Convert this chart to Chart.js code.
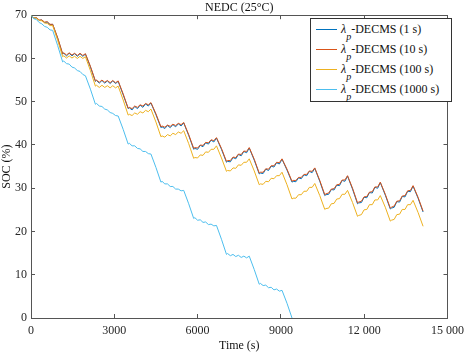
<!DOCTYPE html>
<html>
<head>
<meta charset="utf-8">
<script src="https://cdn.jsdelivr.net/npm/chart.js@4.4.1/dist/chart.umd.min.js"></script>
<style>
  body { margin: 0; background: #fff; }
  #wrap { position: relative; width: 474px; height: 353px; }
  #legend {
    position: absolute; left: 310px; top: 18px; width: 140px; height: 82px;
    border: 1px solid #333; background: #fff;
    font-family: "Liberation Serif", serif; font-size: 12px; color: #111;
  }
  .row { position: absolute; left: 0; height: 20px; width: 140px; }
  .sw { position: absolute; left: 5px; top: 10px; width: 21px; height: 1px; }
  .txt { position: absolute; left: 30px; top: 0; line-height: 20px; white-space: nowrap; font-family: "Liberation Serif", serif; }
  .txt i { font-style: italic; }
  .txt sub { font-size: 10px; vertical-align: -7px; line-height: 0; font-style: italic; }
</style>
</head>
<body>
<div id="wrap">
  <canvas id="myChart" width="474" height="353"></canvas>
  <div id="legend"></div>
</div>
<script>
'use strict';

// time (s), NEDC cycles of 1180 s
const times = [
  0, 100, 195, 295, 390, 490, 585, 685, 780, 960, 1140,
  1180, 1280, 1375, 1475, 1570, 1670, 1765, 1865, 1960, 2140, 2320,
  2360, 2460, 2555, 2655, 2750, 2850, 2945, 3045, 3140, 3320, 3500,
  3540, 3640, 3735, 3835, 3930, 4030, 4125, 4225, 4320, 4500, 4680,
  4720, 4820, 4915, 5015, 5110, 5210, 5305, 5405, 5500, 5680, 5860,
  5900, 6000, 6095, 6195, 6290, 6390, 6485, 6585, 6680, 6860, 7040,
  7080, 7180, 7275, 7375, 7470, 7570, 7665, 7765, 7860, 8040, 8220,
  8260, 8360, 8455, 8555, 8650, 8750, 8845, 8945, 9040, 9220, 9400,
  9440, 9540, 9635, 9735, 9830, 9930, 10025, 10125, 10220, 10400, 10580,
  10620, 10720, 10815, 10915, 11010, 11110, 11205, 11305, 11400, 11580, 11760,
  11800, 11900, 11995, 12095, 12190, 12290, 12385, 12485, 12580, 12760, 12940,
  12980, 13080, 13175, 13275, 13370, 13470, 13565, 13665, 13760, 13940, 14120
];

const soc1s = [
  70.0, 69.3, 69.4, 68.8, 68.9, 68.3, 68.4, 67.8, 67.9, 64.7, 61.0,
  61.2, 60.6, 61.2, 60.6, 61.1, 60.5, 61.1, 60.5, 61.0, 58.0, 54.7,
  54.9, 54.3, 54.9, 54.3, 54.8, 54.2, 54.8, 54.2, 54.7, 51.6, 48.4,
  48.6, 48.1, 48.9, 48.4, 49.2, 48.7, 49.5, 49.0, 49.7, 47.0, 44.0,
  44.2, 43.8, 44.5, 44.0, 44.7, 44.2, 44.9, 44.4, 45.1, 42.2, 39.0,
  39.2, 39.0, 39.9, 39.6, 40.5, 40.2, 41.1, 40.7, 41.6, 39.0, 36.0,
  36.2, 36.1, 37.1, 36.8, 37.8, 37.5, 38.5, 38.2, 39.3, 36.5, 33.3,
  33.5, 33.4, 34.4, 34.1, 35.1, 34.9, 35.9, 35.6, 36.7, 34.2, 31.4,
  31.6, 31.5, 32.4, 32.2, 33.1, 32.9, 33.9, 33.6, 34.6, 31.6, 28.3,
  28.5, 28.6, 29.7, 29.6, 30.7, 30.6, 31.8, 31.6, 32.8, 29.8, 26.4,
  26.6, 26.7, 27.9, 27.8, 29.0, 28.9, 30.2, 30.0, 31.3, 28.4, 25.2,
  25.4, 25.6, 26.9, 26.8, 28.1, 28.0, 29.3, 29.2, 30.5, 27.7, 24.5
];

const soc10s = [
  70.0, 69.4, 69.4, 68.9, 68.9, 68.4, 68.5, 67.9, 67.9, 64.8, 61.1,
  61.3, 60.8, 61.3, 60.8, 61.2, 60.7, 61.2, 60.7, 61.1, 58.2, 54.8,
  55.0, 54.5, 55.0, 54.5, 54.9, 54.4, 54.9, 54.4, 54.8, 51.8, 48.5,
  48.7, 48.4, 49.0, 48.7, 49.3, 49.0, 49.6, 49.3, 49.8, 47.2, 44.2,
  44.4, 44.1, 44.6, 44.3, 44.8, 44.5, 45.0, 44.7, 45.2, 42.4, 39.2,
  39.4, 39.3, 40.0, 39.9, 40.6, 40.5, 41.2, 41.0, 41.7, 39.2, 36.2,
  36.4, 36.4, 37.2, 37.1, 37.9, 37.8, 38.6, 38.5, 39.4, 36.7, 33.5,
  33.7, 33.7, 34.5, 34.4, 35.2, 35.2, 36.0, 35.9, 36.8, 34.4, 31.6,
  31.8, 31.8, 32.5, 32.5, 33.2, 33.2, 34.0, 33.9, 34.7, 31.8, 28.5,
  28.7, 28.9, 29.8, 29.9, 30.8, 30.9, 31.9, 31.9, 32.9, 30.0, 26.6,
  26.8, 27.0, 28.0, 28.1, 29.1, 29.2, 30.3, 30.3, 31.4, 28.6, 25.4,
  25.6, 25.9, 27.0, 27.1, 28.2, 28.3, 29.4, 29.5, 30.6, 27.9, 24.7
];

const soc100s = [
  70.0, 69.4, 69.3, 68.8, 68.7, 68.2, 68.1, 67.6, 67.6, 64.2, 60.4,
  60.6, 60.1, 60.6, 60.1, 60.5, 60.0, 60.5, 60.0, 60.4, 57.2, 53.6,
  53.8, 53.3, 53.8, 53.3, 53.7, 53.2, 53.7, 53.2, 53.6, 50.4, 46.9,
  47.1, 46.8, 47.4, 47.1, 47.7, 47.4, 48.0, 47.7, 48.3, 45.3, 41.9,
  42.1, 41.8, 42.4, 42.1, 42.7, 42.4, 43.0, 42.7, 43.3, 40.3, 36.9,
  37.1, 37.0, 37.7, 37.6, 38.4, 38.3, 39.0, 39.0, 39.8, 37.0, 33.9,
  34.1, 34.0, 34.7, 34.6, 35.4, 35.3, 36.0, 36.0, 36.8, 34.0, 30.8,
  31.0, 30.9, 31.6, 31.5, 32.3, 32.2, 32.9, 32.9, 33.7, 30.8, 27.5,
  27.7, 27.7, 28.5, 28.5, 29.3, 29.3, 30.2, 30.2, 31.1, 28.3, 25.1,
  25.3, 25.4, 26.4, 26.5, 27.5, 27.6, 28.6, 28.6, 29.5, 26.7, 23.5,
  23.7, 23.9, 25.0, 25.1, 26.2, 26.2, 27.3, 27.3, 28.3, 25.6, 22.4,
  22.6, 22.8, 23.9, 24.0, 25.1, 25.1, 26.2, 26.2, 27.2, 24.4, 21.2
];

// battery empty after ~9400 s
const soc1000s = [
  70.0, 69.2, 69.0, 68.3, 68.0, 67.4, 67.2, 66.6, 66.5, 63.0, 59.2,
  59.4, 58.8, 58.7, 58.0, 57.8, 57.2, 57.0, 56.3, 56.0, 52.9, 49.4,
  49.6, 49.0, 48.9, 48.3, 48.1, 47.5, 47.3, 46.8, 46.7, 43.6, 40.2,
  40.4, 39.8, 39.8, 39.2, 39.1, 38.5, 38.5, 38.0, 37.9, 34.8, 31.4,
  31.6, 31.0, 31.0, 30.4, 30.4, 29.8, 29.8, 29.4, 29.5, 26.4, 23.0,
  23.2, 22.6, 22.7, 22.1, 22.2, 21.6, 21.7, 21.3, 21.4, 18.2, 14.7,
  14.9, 14.4, 14.7, 14.2, 14.5, 14.0, 14.3, 13.9, 14.3, 11.2, 7.8,
  8.0, 7.5, 7.6, 7.0, 7.1, 6.5, 6.7, 6.2, 6.4, 3.4, 0.0
];

const seriesNames = ['1 s', '10 s', '100 s', '1000 s'];
const seriesColors = ['#0072BD', '#D95319', '#EDB120', '#4DBEEE'];
const xTicks = [0, 3000, 6000, 9000, 12000, 15000];
const xTickLabels = ['0', '3000', '6000', '9000', '12 000', '15 000'];
const yTicks = [0, 10, 20, 30, 40, 50, 60, 70];

function toPoints(values) {
  return values.map((v, i) => ({ x: times[i], y: v }));
}

const serif = '"Liberation Serif", serif';
const textFont = { family: serif, size: 12, weight: 'normal' };
Chart.defaults.font.family = serif;
Chart.defaults.font.size = 12;
Chart.defaults.color = '#262626';

var allSeries = [soc1s, soc10s, soc100s, soc1000s];
var datasets = allSeries.map((vals, i) => ({
  label: seriesNames[i],
  data: toPoints(vals),
  borderColor: seriesColors[i],
  backgroundColor: seriesColors[i],
  borderWidth: 1,
  pointRadius: 0,
  fill: false,
  order: 4 - i
}));

const axisColor = '#555';
function boxAxis(pos, ticks, isX) {
  return {
    type: 'linear',
    position: pos,
    min: 0,
    max: isX ? 15000 : 70,
    afterBuildTicks: s => { s.ticks = ticks.map(v => ({ value: v })); },
    afterFit: s => { if (isX) s.height = 0; else s.width = 0; },
    ticks: { display: false },
    grid: { drawOnChartArea: false, drawTicks: true, tickLength: -4, color: axisColor },
    border: { display: true, color: axisColor, width: 1 }
  };
}

var ctx = document.getElementById('myChart').getContext('2d');
var chart = new Chart(ctx, {
  type: 'line',
  data: { datasets: datasets },
  options: {
    responsive: false,
    animation: false,
    layout: { padding: { left: 0, right: 19, top: 0, bottom: 0 } },
    plugins: {
      legend: { display: false },
      tooltip: { enabled: false },
      title: {
        display: true,
        text: 'NEDC (25°C)',
        fullSize: false,
        font: textFont,
        color: '#111',
        padding: { top: -1, bottom: 0.6 }
      }
    },
    scales: {
      x: {
        type: 'linear',
        position: 'bottom',
        min: 0,
        max: 15000,
        afterBuildTicks: s => { s.ticks = xTicks.map(v => ({ value: v })); },
        afterFit: s => { s.height = 35; },
        ticks: {
          padding: 10,
          maxRotation: 0,
          autoSkip: false,
          font: textFont,
          color: '#262626',
          callback: v => xTickLabels[xTicks.indexOf(v)]
        },
        grid: { drawOnChartArea: false, drawTicks: true, tickLength: -4, color: axisColor },
        border: { display: true, color: axisColor, width: 1 },
        title: { display: true, text: 'Time (s)', font: textFont, color: '#111', padding: { top: 0, bottom: 0 } }
      },
      y: {
        type: 'linear',
        position: 'left',
        min: 0,
        max: 70,
        afterBuildTicks: s => { s.ticks = yTicks.map(v => ({ value: v })); },
        afterFit: s => { s.width = 31; },
        ticks: { padding: 8, font: textFont, color: '#262626' },
        grid: { drawOnChartArea: false, drawTicks: true, tickLength: -4, color: axisColor },
        border: { display: true, color: axisColor, width: 1 },
        title: { display: true, text: 'SOC (%)', font: textFont, color: '#111', padding: { top: 0, bottom: 0 } }
      },
      x2: boxAxis('top', xTicks, true),
      y2: boxAxis('right', yTicks, false)
    }
  }
});

// legend box, top right inside the axes
var legend = document.getElementById('legend');
seriesNames.forEach((name, i) => {
  var row = document.createElement('div');
  row.className = 'row';
  row.style.top = (i * 20) + 'px';
  row.innerHTML = '<div class="sw" style="background:' + seriesColors[i] + '"></div>' +
    '<span class="txt"><i>λ</i><sub>p</sub>-DECMS (' + name + ')</span>';
  legend.appendChild(row);
});
</script>
</body>
</html>
